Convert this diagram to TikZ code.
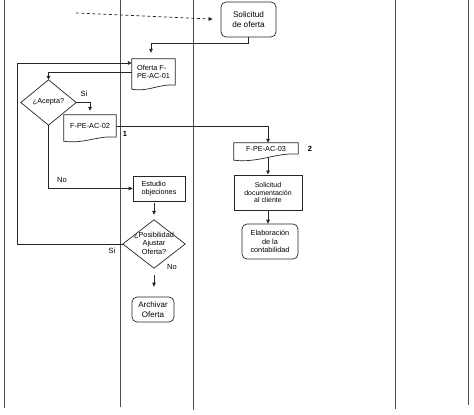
\documentclass[tikz,border=0pt]{standalone}
\usepackage{fontspec}
\setmainfont{Liberation Sans}
\usetikzlibrary{calc,arrows.meta}
\newcommand\docpath[2]{\draw[ln] (#1.south east) -- (#1.north east) -- (#1.north west) -- ($(#1.south west)+(0pt,-#2)$) .. controls ($(#1.south west)!0.4!(#1.south east)+(0pt,-#2-3pt)$) and ($(#1.south west)!0.65!(#1.south east)+(0pt,2pt)$) .. (#1.south east);}
\newcommand\diampath[1]{\draw[ln] (#1.north) -- (#1.east) -- (#1.south) -- (#1.west) -- cycle;}
\begin{document}
\begin{tikzpicture}[x=1pt,y=-1pt,
 lane/.style={draw=black!70, line width=0.9pt},
 ln/.style={draw=black!85, line width=0.7pt},
 arr/.style={ln, -{Triangle[length=4pt,width=3.6pt]}},
 txt/.style={font=\fontsize{7.3}{8.5}\selectfont, inner sep=0pt, align=center},
 box/.style={txt, draw=black!85, line width=0.7pt},
 rbox/.style={box, rounded corners=5pt},
 lbl/.style={font=\fontsize{7.5}{9}\selectfont, inner sep=0pt},
 num/.style={font=\fontsize{7.5}{9}\selectfont\bfseries, inner sep=0pt}]
\useasboundingbox (0,0) rectangle (474,415);
\fill[white] (0,0) rectangle (474,415);
% lanes
\draw[lane] (4,0) -- (4,408);
\draw[lane] (120,0) -- (120,407);
\draw[lane] (193,0) -- (193,410);
\draw[lane] (395,0) -- (395,409);
\draw[lane] (468,0) -- (468,405);
% nodes
\node[rbox, minimum width=55pt, minimum height=35pt, font=\fontsize{8.2}{10}\selectfont] (sol) at (248.5,19.5) {Solicitud\\de oferta};
\node[txt, minimum width=43pt, minimum height=26pt, align=left] (of) at (153.5,72) {Oferta F-\\PE-AC-01};
\docpath{of}{4pt}
\node[txt, minimum width=55pt, minimum height=45pt] (dac) at (48.5,102.5) {\raisebox{3.5pt}{¿Acepta?}};
\diampath{dac}
\node[txt, minimum width=52pt, minimum height=22pt] (ac02) at (90,126) {F-PE-AC-02};
\docpath{ac02}{4pt}
\node[txt, minimum width=64pt, minimum height=11pt] (ac03) at (266,148.5) {F-PE-AC-03};
\docpath{ac03}{6pt}
\node[box, line width=0.95pt, minimum width=68pt, minimum height=35pt, font=\fontsize{7}{7.5}\selectfont] (sdc) at (268,192.5) {Solicitud\\documentación\\al cliente};
\node[rbox, minimum width=56pt, minimum height=35pt] (elab) at (270,241.5) {Elaboración\\de la\\contabilidad};
\node[box, minimum width=52pt, minimum height=25pt, align=left] (est) at (159,188.5) {Estudio\\objeciones};
\node[txt, minimum width=62pt, minimum height=48pt] (dpo) at (154,244) {\raisebox{-4pt}{\begin{tabular}{@{}c@{}}¿Posibilidad\\Ajustar\\Oferta?\end{tabular}}};
\diampath{dpo}
\node[rbox, minimum width=42pt, minimum height=25pt, font=\fontsize{8}{9.5}\selectfont] (arch) at (153,309.5) {Archivar\\Oferta};
% labels
\node[lbl] (lsi1) at (84,94) {Si};
\node[lbl] (lno1) at (62,180) {No};
\node[lbl] (lsi2) at (112,251) {Si};
\node[lbl] (lno2) at (172,267) {No};
\node[num] (n1) at (125,134) {1};
\node[num] (n2) at (310,149) {2};
% coordinates
\coordinate (ds) at (76,13);
\coordinate (lb) at (17,244);
\coordinate (lt) at (17,63);
\coordinate (tj) at (151,43);
% connectors
\draw[arr, dash pattern=on 3pt off 2.5pt, shorten >=8pt] (ds) -- (sol.west);
\draw[arr, shorten >=6pt] (sol.south) |- (tj) -- (tj |- of.north);
\draw[arr] (dpo.west) -- (lb) -- (lt) -- (lt -| of.west);
\draw[arr] (of.west) -| (dac.north);
\draw[arr, shorten >=4pt] (dac.east) -| (ac02.north);
\draw[arr] (dac.south) |- (est.west);
\draw[arr] (ac02.east) -| (ac03.north -| sdc.north);
\draw[arr, shorten <=4pt] (ac03.south -| sdc.north) -- (sdc.north);
\draw[arr] (sdc.south) -- (sdc.south |- elab.north);
\draw[arr, shorten <=2pt, shorten >=5pt] (est.south -| dpo.north) -- (dpo.north);
\draw[arr, shorten <=7pt, shorten >=10pt] (dpo.south) -- (dpo.south |- arch.north);
\end{tikzpicture}
\end{document}
